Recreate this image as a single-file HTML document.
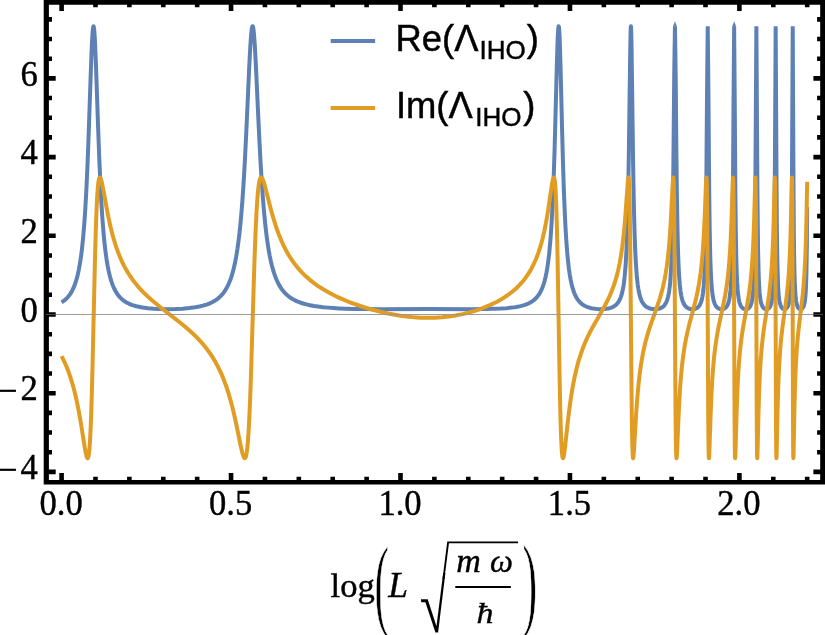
<!DOCTYPE html>
<html><head><meta charset="utf-8"><title>Plot</title>
<style>html,body{margin:0;padding:0;background:#fff;overflow:hidden}svg{display:block}</style>
</head><body>
<svg width="825" height="635" viewBox="0 0 825 635">
<rect width="825" height="635" fill="#fff"/>
<path d="M61.60 302.38 L63.71 300.95 L65.65 299.36 L67.44 297.57 L69.09 295.58 L70.62 293.38 L72.04 290.94 L73.36 288.24 L74.57 285.29 L75.73 281.98 L76.80 278.39 L77.79 274.49 L78.74 270.16 L79.62 265.48 L80.45 260.37 L81.25 254.75 L81.99 248.70 L83.18 237.11 L84.29 223.78 L85.32 208.55 L86.29 191.28 L87.25 171.01 L88.19 147.68 L90.84 70.95 L91.66 49.57 L92.13 39.65 L92.58 32.51 L93.00 28.14 L93.21 26.90 L93.41 26.33 L93.51 26.26 L93.62 26.36 L93.83 27.06 L94.05 28.40 L94.27 30.52 L94.72 36.73 L95.19 45.82 L96.03 66.89 L98.17 129.30 L99.34 160.13 L100.67 189.31 L101.35 201.87 L102.06 213.32 L102.84 224.31 L103.68 234.35 L104.55 243.29 L105.48 251.41 L106.47 258.70 L107.55 265.33 L108.71 271.21 L109.96 276.48 L111.39 281.38 L112.16 283.63 L112.96 285.72 L113.80 287.70 L114.69 289.54 L115.62 291.28 L116.59 292.89 L117.62 294.42 L118.70 295.83 L119.83 297.14 L121.04 298.37 L122.30 299.51 L123.64 300.57 L125.06 301.55 L126.55 302.45 L128.16 303.30 L129.85 304.07 L131.65 304.79 L133.55 305.44 L135.57 306.03 L137.74 306.58 L142.46 307.50 L147.88 308.23 L153.94 308.76 L160.63 309.08 L167.73 309.19 L175.33 309.06 L182.60 308.69 L189.24 308.10 L195.22 307.29 L197.92 306.81 L200.46 306.27 L202.86 305.68 L205.12 305.03 L207.26 304.32 L209.27 303.55 L211.19 302.70 L212.99 301.79 L214.69 300.81 L216.30 299.76 L217.82 298.62 L219.27 297.40 L220.64 296.09 L221.95 294.69 L223.19 293.19 L224.37 291.60 L225.50 289.88 L226.58 288.05 L227.62 286.10 L228.60 284.04 L229.54 281.83 L230.44 279.51 L231.29 277.05 L232.13 274.40 L233.59 269.04 L234.96 263.06 L236.24 256.39 L237.43 249.04 L238.56 240.85 L239.62 231.90 L240.63 222.01 L241.58 211.18 L242.45 199.95 L243.30 187.66 L244.13 174.11 L244.95 159.32 L246.40 129.76 L249.15 68.49 L250.26 47.25 L250.88 37.90 L251.46 31.39 L251.75 29.12 L252.02 27.56 L252.31 26.57 L252.44 26.34 L252.58 26.26 L252.72 26.34 L252.87 26.60 L253.15 27.62 L253.44 29.29 L253.74 31.71 L254.34 38.62 L254.99 48.45 L256.12 70.05 L258.43 120.33 L259.54 143.07 L260.69 164.49 L261.85 183.24 L262.91 198.08 L264.00 211.36 L265.14 223.24 L266.36 233.96 L267.16 240.05 L267.99 245.76 L268.86 251.08 L269.78 256.08 L270.74 260.69 L271.74 264.98 L272.80 268.95 L273.92 272.65 L275.10 276.08 L276.34 279.23 L277.66 282.15 L279.06 284.86 L280.55 287.36 L282.14 289.66 L283.83 291.77 L285.63 293.71 L287.62 295.54 L289.76 297.21 L292.05 298.72 L294.52 300.10 L297.18 301.35 L300.04 302.48 L303.13 303.49 L306.49 304.41 L310.11 305.22 L314.04 305.94 L318.32 306.58 L322.96 307.14 L328.02 307.62 L333.54 308.03 L339.55 308.38 L346.11 308.66 L353.61 308.88 L361.87 309.04 L381.55 309.19 L427.87 309.10 L472.41 309.18 L484.01 309.09 L493.44 308.87 L500.44 308.56 L506.51 308.15 L511.83 307.61 L516.49 306.93 L520.60 306.10 L524.23 305.10 L527.44 303.93 L528.90 303.26 L530.28 302.55 L532.35 301.27 L534.24 299.83 L535.95 298.22 L537.53 296.42 L538.98 294.40 L540.31 292.16 L541.54 289.67 L542.67 286.92 L543.73 283.85 L544.71 280.46 L545.62 276.74 L546.46 272.66 L547.26 268.14 L547.99 263.26 L548.69 257.85 L549.35 251.91 L550.40 240.27 L551.37 226.64 L552.25 211.07 L553.09 192.90 L553.87 172.16 L554.65 147.56 L556.76 68.01 L557.37 47.52 L557.72 38.20 L558.06 31.49 L558.38 27.52 L558.54 26.55 L558.69 26.26 L558.84 26.58 L559.00 27.60 L559.31 31.48 L559.64 38.03 L559.97 47.20 L560.58 68.41 L562.15 132.09 L562.98 162.76 L563.93 192.14 L564.93 216.19 L565.50 227.44 L566.10 237.49 L566.73 246.59 L567.40 254.72 L568.12 262.05 L568.91 268.67 L569.74 274.49 L570.64 279.70 L571.71 284.66 L572.88 288.97 L574.17 292.74 L574.87 294.43 L575.60 295.99 L576.37 297.44 L577.19 298.80 L578.05 300.03 L578.97 301.19 L579.94 302.25 L580.97 303.23 L582.06 304.12 L583.22 304.93 L584.62 305.76 L586.14 306.50 L587.76 307.15 L589.50 307.72 L591.35 308.19 L593.32 308.58 L595.40 308.87 L597.55 309.07 L599.78 309.18 L602.01 309.17 L604.16 309.06 L606.18 308.84 L608.05 308.53 L609.78 308.11 L611.35 307.60 L612.79 306.99 L614.32 306.13 L615.69 305.12 L616.92 303.95 L618.04 302.59 L619.05 301.02 L619.96 299.22 L620.79 297.21 L621.54 294.91 L622.23 292.34 L622.86 289.42 L623.44 286.12 L623.98 282.46 L624.46 278.44 L624.92 273.87 L625.74 263.19 L626.39 251.56 L626.97 237.52 L627.50 221.04 L627.98 201.34 L628.41 179.19 L628.84 153.06 L630.27 47.21 L630.60 31.51 L630.76 27.54 L630.91 26.26 L630.99 26.51 L631.06 27.36 L631.22 31.15 L631.56 46.72 L633.06 159.82 L633.52 187.81 L634.01 211.39 L634.57 232.27 L635.19 249.42 L635.90 263.50 L636.72 274.94 L637.20 280.01 L637.72 284.46 L638.31 288.48 L638.94 291.98 L639.64 295.03 L640.41 297.70 L641.26 300.03 L642.22 302.04 L643.30 303.77 L644.51 305.23 L645.86 306.45 L647.39 307.44 L649.13 308.22 L651.07 308.78 L653.17 309.11 L655.34 309.18" fill="none" stroke="#5E81B5" stroke-width="4.0" stroke-linejoin="round" stroke-linecap="butt"/>
<path d="M654.00 309.17 L656.03 309.15 L657.95 308.91 L659.72 308.46 L661.29 307.80 L662.66 306.95 L663.87 305.89 L664.92 304.60 L665.87 303.06 L666.70 301.24 L667.43 299.13 L668.09 296.68 L668.68 293.87 L669.21 290.60 L669.68 286.95 L670.12 282.73 L670.52 277.91 L671.19 266.81 L671.76 252.91 L672.25 235.60 L672.69 214.55 L673.06 190.48 L673.41 161.80 L674.26 71.29 L674.96 26.26 L675.67 72.80 L676.38 151.30 L676.91 196.86 L677.50 230.74 L677.83 244.59 L678.19 256.21 L678.65 267.43 L679.19 276.92 L679.80 284.64 L680.49 290.83 L681.31 295.86 L681.77 297.97 L682.28 299.87 L682.83 301.53 L683.44 303.02 L684.10 304.30 L684.83 305.44 L685.46 306.22 L686.14 306.90 L686.87 307.49 L687.66 308.00 L688.52 308.43 L689.43 308.76 L690.40 309.00 L691.39 309.14 L692.42 309.19 L693.45 309.13 L694.45 308.96 L695.38 308.70 L696.25 308.34 L697.05 307.90 L697.78 307.36 L698.46 306.72 L699.47 305.43 L700.35 303.83 L701.11 301.91 L701.78 299.59 L702.36 296.86 L702.89 293.61 L703.35 289.83 L703.76 285.44 L704.43 275.05 L704.97 261.76 L705.45 244.29 L705.84 222.67 L706.37 179.30 L707.02 94.02 L707.73 26.26 L708.44 94.33 L708.88 154.91 L709.26 196.36 L709.72 230.46 L710.25 255.56 L710.61 266.91 L711.03 276.33 L711.50 284.10 L712.03 290.30 L712.67 295.41 L713.41 299.47 L713.83 301.16 L714.31 302.69 L714.82 304.01 L715.39 305.18 L715.88 306.00 L716.42 306.72 L717.00 307.35 L717.64 307.89 L718.32 308.34 L719.05 308.70 L719.82 308.96 L720.63 309.12 L721.48 309.19 L722.32 309.14 L723.14 308.99 L723.92 308.74 L724.64 308.39 L725.32 307.94 L725.94 307.39 L726.50 306.75 L727.33 305.46 L728.05 303.88 L728.68 301.93 L729.23 299.63 L729.71 296.88 L730.15 293.58 L730.53 289.71 L730.87 285.30 L731.42 274.95 L731.88 261.26 L732.26 243.76 L732.58 222.30 L733.02 178.17 L733.43 115.92 L734.14 26.26 L734.85 115.48 L735.41 196.26 L735.78 229.78 L736.20 254.20 L736.49 265.45 L736.81 274.84 L737.18 282.70 L737.62 289.20 L738.11 294.39 L738.71 298.65 L739.41 301.97 L739.80 303.35 L740.24 304.56 L741.08 306.28 L741.56 306.97 L742.07 307.57 L742.63 308.09 L743.22 308.50 L743.87 308.83 L744.54 309.05 L745.27 309.17 L746.01 309.18 L746.74 309.07 L747.43 308.85 L748.08 308.53 L748.69 308.09 L749.24 307.57 L749.75 306.93 L750.48 305.67 L751.11 304.10 L751.66 302.20 L752.14 299.89 L752.57 297.16 L752.94 293.93 L753.27 290.08 L753.57 285.57 L754.04 275.23 L754.44 261.47 L754.77 244.47 L755.05 222.41 L755.42 178.21 L756.38 26.26 L757.45 193.95 L757.75 226.37 L758.10 251.23 L758.59 272.43 L758.89 280.48 L759.24 287.24 L759.64 292.70 L760.10 297.10 L760.63 300.61 L761.28 303.45 L761.96 305.44 L762.77 306.99 L763.23 307.61 L763.73 308.13 L764.26 308.54 L764.84 308.86 L765.49 309.09 L766.16 309.18 L766.83 309.15 L767.49 309.00 L768.10 308.72 L768.67 308.33 L769.19 307.84 L769.68 307.22 L770.36 305.99 L770.94 304.45 L771.45 302.55 L771.89 300.29 L772.27 297.56 L772.61 294.36 L773.18 285.97 L773.59 275.94 L773.94 262.58 L774.24 244.99 L774.49 223.35 L774.81 180.27 L775.67 26.27 L776.57 190.40 L776.81 221.22 L777.08 245.68 L777.47 267.26 L777.97 283.01 L778.26 288.92 L778.61 293.87 L779.01 297.85 L779.48 301.14 L780.03 303.71 L780.67 305.73 L781.05 306.56 L781.45 307.26 L781.88 307.86 L782.36 308.36 L782.92 308.76 L783.53 309.04 L784.17 309.18 L784.80 309.16 L785.42 309.01 L786.01 308.71 L786.54 308.29 L787.04 307.73 L787.71 306.63 L788.29 305.17 L788.79 303.37 L789.22 301.12 L789.60 298.42 L789.93 295.08 L790.47 286.70 L790.85 276.43 L791.16 263.28 L791.44 245.43 L791.66 223.71 L791.95 181.24 L792.72 26.27 L793.49 183.66 L793.86 234.91 L794.13 256.75 L794.47 273.50 L794.88 285.71 L795.41 294.75 L795.70 297.84 L796.03 300.55 L796.41 302.76 L796.84 304.62 L797.34 306.13 L797.91 307.32 L798.57 308.22 L799.31 308.83 L799.79 309.05 L800.27 309.17 L800.76 309.18 L801.24 309.08 L801.71 308.88 L802.15 308.58 L802.56 308.18 L802.93 307.69 L803.56 306.49 L804.11 304.89 L804.57 302.90 L804.97 300.41 L805.44 295.91 L805.83 290.10 L806.14 282.93 L806.41 273.52 L806.84 247.08 L807.18 207.23" fill="none" stroke="#5E81B5" stroke-width="4.0" stroke-linejoin="bevel" stroke-linecap="butt"/>
<path d="M672.96 26.56L674.96 21.26L676.96 26.56Z" fill="#5E81B5"/>
<path d="M732.14 26.56L734.14 21.26L736.14 26.56Z" fill="#5E81B5"/>
<path d="M61.60 356.14 L63.34 359.58 L65.00 363.15 L66.58 366.83 L68.10 370.68 L69.54 374.67 L70.93 378.86 L72.26 383.21 L73.54 387.78 L74.91 393.11 L76.24 398.80 L77.53 404.86 L78.79 411.27 L81.02 424.03 L84.73 447.32 L85.94 453.86 L86.70 456.77 L87.04 457.62 L87.36 458.10 L87.52 458.20 L87.67 458.20 L87.96 457.93 L88.23 457.31 L88.50 456.26 L88.90 453.92 L89.27 450.70 L89.63 446.52 L89.98 441.39 L90.67 427.80 L91.34 409.61 L91.88 391.23 L92.47 368.47 L95.03 257.06 L95.76 231.24 L96.47 211.49 L97.25 195.67 L97.66 189.68 L98.08 184.98 L98.53 181.42 L99.00 179.02 L99.25 178.23 L99.50 177.74 L99.77 177.49 L100.05 177.52 L100.26 177.72 L100.48 178.06 L100.95 179.20 L101.48 180.98 L102.06 183.45 L103.29 189.66 L106.66 208.23 L108.31 216.66 L110.51 226.70 L111.63 231.29 L112.77 235.65 L114.00 239.99 L115.28 244.17 L116.60 248.14 L117.98 251.97 L119.41 255.63 L120.90 259.16 L122.46 262.58 L124.09 265.86 L125.98 269.36 L127.96 272.73 L130.04 276.00 L132.26 279.19 L134.59 282.31 L137.05 285.35 L139.67 288.35 L142.46 291.33 L145.19 294.07 L148.11 296.84 L151.24 299.65 L154.64 302.55 L161.61 308.20 L175.66 319.09 L181.51 323.73 L187.52 328.76 L192.76 333.49 L195.74 336.38 L198.55 339.26 L201.20 342.14 L203.72 345.07 L206.12 348.05 L208.40 351.09 L210.58 354.19 L212.67 357.40 L214.88 361.06 L216.98 364.85 L218.99 368.80 L220.91 372.88 L222.74 377.15 L224.50 381.59 L226.19 386.24 L227.81 391.12 L229.37 396.18 L230.87 401.48 L232.35 407.12 L233.80 413.10 L236.39 424.76 L240.75 446.07 L242.14 452.13 L242.94 454.97 L243.66 456.92 L243.99 457.56 L244.32 457.98 L244.62 458.19 L244.91 458.19 L245.24 457.94 L245.56 457.39 L245.87 456.55 L246.17 455.43 L246.75 452.24 L247.30 447.90 L247.83 442.22 L248.36 435.16 L248.86 426.72 L249.36 416.96 L250.18 397.55 L251.04 373.25 L253.70 285.26 L254.67 255.56 L255.64 230.38 L256.58 211.01 L257.51 196.89 L258.00 191.35 L258.50 186.82 L259.02 183.19 L259.55 180.52 L260.12 178.67 L260.42 178.07 L260.73 177.68 L261.04 177.49 L261.35 177.50 L261.69 177.70 L262.04 178.10 L262.78 179.48 L263.61 181.68 L264.47 184.46 L265.49 188.18 L269.36 203.55 L271.17 210.48 L272.85 216.48 L274.50 221.98 L276.63 228.45 L278.82 234.48 L281.11 240.11 L283.51 245.40 L286.12 250.54 L288.89 255.40 L291.84 259.99 L294.95 264.32 L298.27 268.43 L301.81 272.34 L305.58 276.06 L309.59 279.61 L312.10 281.64 L314.70 283.62 L317.40 285.54 L320.20 287.43 L323.12 289.27 L326.14 291.06 L329.28 292.82 L332.52 294.53 L335.90 296.21 L339.39 297.85 L342.99 299.45 L346.71 301.01 L350.54 302.52 L354.45 303.99 L362.53 306.75 L370.93 309.29 L379.43 311.53 L387.92 313.45 L396.30 315.03 L400.43 315.68 L404.50 316.25 L408.54 316.73 L412.54 317.12 L416.51 317.42 L420.44 317.64 L424.32 317.76 L428.19 317.81 L435.20 317.65 L442.13 317.21 L448.99 316.47 L455.79 315.43 L462.52 314.10 L469.16 312.47 L475.66 310.56 L481.97 308.38 L485.04 307.20 L488.03 305.96 L490.95 304.66 L493.80 303.31 L496.56 301.91 L499.24 300.45 L501.84 298.94 L504.34 297.39 L506.75 295.79 L509.06 294.15 L511.28 292.46 L513.43 290.71 L515.48 288.92 L517.46 287.08 L519.36 285.17 L521.18 283.22 L524.16 279.67 L526.94 275.91 L529.51 271.95 L531.91 267.73 L534.15 263.23 L536.22 258.46 L538.16 253.35 L539.96 247.90 L541.41 242.97 L542.77 237.72 L544.08 232.12 L545.33 226.10 L546.65 219.05 L547.95 211.27 L549.16 203.42 L551.35 188.41 L552.19 183.14 L552.69 180.55 L553.12 178.79 L553.52 177.77 L553.71 177.53 L553.88 177.48 L554.08 177.64 L554.27 178.03 L554.61 179.48 L554.95 181.94 L555.26 185.31 L555.84 195.10 L556.40 209.54 L556.95 229.14 L557.51 254.88 L559.57 375.05 L560.06 399.61 L560.50 418.46 L561.08 436.72 L561.66 448.94 L561.97 453.12 L562.29 456.02 L562.64 457.72 L562.83 458.12 L563.01 458.21 L563.18 458.06 L563.34 457.72 L563.69 456.45 L564.07 454.35 L564.49 451.42 L565.25 445.15 L567.46 424.86 L568.74 413.90 L570.18 402.87 L571.66 393.01 L573.25 383.84 L574.94 375.46 L576.77 367.67 L578.76 360.38 L580.75 354.05 L582.92 347.97 L585.30 342.11 L587.94 336.28 L590.34 331.47 L593.06 326.39 L601.93 310.91 L604.94 305.48 L607.74 300.03 L610.16 294.81 L612.50 289.11 L614.57 283.24 L616.41 277.15 L618.06 270.66 L619.55 263.68 L620.90 256.14 L622.11 247.92 L623.23 238.84 L624.23 229.19 L625.17 218.37 L627.77 182.64 L628.19 178.68 L628.38 177.73 L628.54 177.48 L628.64 177.64 L628.73 178.00 L628.90 179.48 L629.21 185.15 L629.50 194.78 L629.77 208.89 L630.32 253.54 L631.36 374.47 L631.83 418.02 L632.12 436.12 L632.42 448.56 L632.74 455.82 L632.91 457.60 L633.01 458.08 L633.11 458.21 L633.27 457.82 L633.45 456.68 L633.86 451.95 L636.16 413.69 L636.98 402.10 L637.82 391.87 L638.75 382.29 L639.76 373.56 L640.87 365.47 L642.07 358.02 L643.26 351.70 L644.57 345.70 L646.02 339.85 L647.64 334.09 L649.10 329.36 L650.78 324.33 L656.32 308.85 L658.25 303.27 L660.05 297.62 L661.62 292.16 L663.11 286.25 L664.43 280.19 L665.61 273.82 L666.68 266.98 L667.56 260.29 L668.37 253.07 L669.11 245.20 L669.79 236.67 L670.42 227.59 L671.02 217.25 L672.74 182.97 L673.04 178.83 L673.16 177.84 L673.29 177.47 L673.41 177.89 L673.53 179.29 L673.76 184.97 L673.96 194.44 L674.16 209.08 L674.54 254.23 L675.26 373.44 L675.60 417.68 L675.81 436.63 L676.02 448.92 L676.24 455.89 L676.37 457.65 L676.50 458.21 L676.62 457.82 L676.74 456.67 L677.03 452.02 L678.67 413.60 L679.25 402.05 L679.87 391.57 L680.56 381.83 L681.30 372.94 L682.12 364.74 L683.02 357.22 L683.90 350.91 L684.87 344.90 L685.94 339.11 L687.14 333.35 L688.24 328.62 L689.48 323.63 L693.63 308.13 L695.08 302.49 L696.45 296.74 L697.63 291.22 L698.76 285.19 L699.75 279.04 L700.65 272.54 L701.44 265.70 L702.09 259.16 L702.69 252.07 L703.25 244.27 L703.76 235.93 L704.69 216.77 L705.99 183.15 L706.23 178.89 L706.33 177.86 L706.43 177.47 L706.53 177.92 L706.61 179.16 L706.79 184.65 L707.10 208.30 L707.40 252.42 L708.23 417.17 L708.55 448.24 L708.74 455.87 L708.84 457.66 L708.94 458.21 L709.02 457.88 L709.12 456.75 L709.36 451.86 L710.57 415.76 L711.39 395.84 L712.29 379.31 L713.34 365.19 L714.03 357.75 L714.80 350.78 L715.66 344.17 L716.63 337.75 L717.62 331.97 L718.78 325.94 L723.29 304.85 L725.09 295.60 L726.02 290.12 L726.84 284.66 L727.58 279.07 L728.25 273.15 L728.94 265.92 L729.57 258.18 L730.12 249.79 L730.65 240.36 L731.54 219.21 L732.71 182.99 L732.90 178.93 L733.06 177.48 L733.14 177.92 L733.22 179.22 L733.37 185.09 L733.62 208.26 L733.86 252.80 L734.56 418.60 L734.83 449.24 L734.98 456.14 L735.06 457.68 L735.14 458.21 L735.31 456.51 L735.49 451.75 L736.49 415.85 L737.17 395.87 L737.94 379.03 L738.84 364.64 L739.42 357.25 L740.07 350.33 L740.79 343.75 L741.59 337.41 L742.43 331.68 L743.40 325.68 L747.19 304.66 L748.71 295.36 L749.50 289.90 L750.19 284.40 L750.81 278.79 L751.39 272.81 L751.97 265.62 L752.49 257.93 L752.98 249.34 L753.41 240.04 L754.17 218.94 L755.16 182.85 L755.32 178.81 L755.46 177.47 L755.60 179.32 L755.72 185.11 L755.93 208.10 L756.15 252.15 L756.74 418.23 L756.97 448.24 L757.09 455.58 L757.24 458.21 L757.38 456.67 L757.54 451.95 L758.39 415.90 L758.99 395.62 L759.66 378.66 L760.43 364.36 L760.94 356.92 L761.50 350.02 L762.12 343.50 L762.82 337.20 L763.55 331.38 L764.38 325.45 L767.66 304.47 L768.98 295.23 L770.26 284.31 L771.29 272.80 L771.80 265.61 L772.26 257.84 L773.06 240.13 L773.72 219.22 L774.60 182.68 L774.73 178.80 L774.86 177.48 L774.98 179.64 L775.08 185.10 L775.27 208.31 L775.98 418.55 L776.18 448.62 L776.29 455.87 L776.41 458.21 L776.54 456.55 L776.67 451.96 L777.43 415.68 L777.95 395.52 L778.55 378.43 L779.23 364.09 L780.17 349.94 L780.71 343.43 L781.33 337.07 L782.71 325.36 L785.62 304.34 L786.79 295.07 L787.92 284.16 L788.84 272.55 L789.70 257.56 L790.39 240.08 L790.98 219.24 L791.76 182.81 L791.88 178.82 L792.00 177.48 L792.09 179.22 L792.19 185.08 L792.36 207.34 L792.99 417.88 L793.18 449.26 L793.27 456.13 L793.39 458.21 L793.49 456.68 L793.61 452.06 L794.29 415.45 L794.75 395.59 L795.29 378.44 L795.91 363.89 L796.75 349.64 L797.80 336.87 L799.03 325.25 L801.63 304.34 L802.67 295.13 L803.69 284.22 L804.51 272.76 L805.30 257.34 L805.95 239.12 L806.46 218.73 L807.18 181.76" fill="none" stroke="#E19C24" stroke-width="4.0" stroke-linejoin="round" stroke-linecap="butt"/>
<line x1="48.9" y1="314.5" x2="820.2" y2="314.5" stroke="#969696" stroke-width="0.95"/>
<path d="M61.60 481.40v-8.3 M61.60 3.25v7.700000000000001 M95.49 481.40v-4.6 M95.49 3.25v3.9999999999999996 M129.38 481.40v-4.6 M129.38 3.25v3.9999999999999996 M163.27 481.40v-4.6 M163.27 3.25v3.9999999999999996 M197.16 481.40v-4.6 M197.16 3.25v3.9999999999999996 M231.05 481.40v-8.3 M231.05 3.25v7.700000000000001 M264.94 481.40v-4.6 M264.94 3.25v3.9999999999999996 M298.83 481.40v-4.6 M298.83 3.25v3.9999999999999996 M332.72 481.40v-4.6 M332.72 3.25v3.9999999999999996 M366.61 481.40v-4.6 M366.61 3.25v3.9999999999999996 M400.50 481.40v-8.3 M400.50 3.25v7.700000000000001 M434.39 481.40v-4.6 M434.39 3.25v3.9999999999999996 M468.28 481.40v-4.6 M468.28 3.25v3.9999999999999996 M502.17 481.40v-4.6 M502.17 3.25v3.9999999999999996 M536.06 481.40v-4.6 M536.06 3.25v3.9999999999999996 M569.95 481.40v-8.3 M569.95 3.25v7.700000000000001 M603.84 481.40v-4.6 M603.84 3.25v3.9999999999999996 M637.73 481.40v-4.6 M637.73 3.25v3.9999999999999996 M671.62 481.40v-4.6 M671.62 3.25v3.9999999999999996 M705.51 481.40v-4.6 M705.51 3.25v3.9999999999999996 M739.40 481.40v-8.3 M739.40 3.25v7.700000000000001 M773.29 481.40v-4.6 M773.29 3.25v3.9999999999999996 M807.18 481.40v-4.6 M807.18 3.25v3.9999999999999996 M47.40 471.90h8.3 M821.70 471.90h-8.3 M47.40 452.23h4.6 M821.70 452.23h-4.6 M47.40 432.55h4.6 M821.70 432.55h-4.6 M47.40 412.88h4.6 M821.70 412.88h-4.6 M47.40 393.20h8.3 M821.70 393.20h-8.3 M47.40 373.52h4.6 M821.70 373.52h-4.6 M47.40 353.85h4.6 M821.70 353.85h-4.6 M47.40 334.18h4.6 M821.70 334.18h-4.6 M47.40 314.50h8.3 M821.70 314.50h-8.3 M47.40 294.82h4.6 M821.70 294.82h-4.6 M47.40 275.15h4.6 M821.70 275.15h-4.6 M47.40 255.47h4.6 M821.70 255.47h-4.6 M47.40 235.80h8.3 M821.70 235.80h-8.3 M47.40 216.12h4.6 M821.70 216.12h-4.6 M47.40 196.45h4.6 M821.70 196.45h-4.6 M47.40 176.78h4.6 M821.70 176.78h-4.6 M47.40 157.10h8.3 M821.70 157.10h-8.3 M47.40 137.42h4.6 M821.70 137.42h-4.6 M47.40 117.75h4.6 M821.70 117.75h-4.6 M47.40 98.07h4.6 M821.70 98.07h-4.6 M47.40 78.40h8.3 M821.70 78.40h-8.3 M47.40 58.72h4.6 M821.70 58.72h-4.6 M47.40 39.05h4.6 M821.70 39.05h-4.6 M47.40 19.38h4.6 M821.70 19.38h-4.6" stroke="#000" stroke-width="4.6" fill="none"/>
<path d="M43.7 -1H826V484.4H43.7Z M48.9 4.75V479.9H820.2V4.75Z" fill="#000" fill-rule="evenodd"/>
<path d="M46 314.5H55.7M813.4 314.5H823" stroke="#5a5a5a" stroke-width="0.8" fill="none"/>
<text transform="translate(61.10 514.8) scale(1 1.065)" font-size="34.6" text-anchor="middle" font-family="Liberation Serif, serif" stroke="#000" stroke-width="0.4">0.0</text>
<text transform="translate(230.55 514.8) scale(1 1.065)" font-size="34.6" text-anchor="middle" font-family="Liberation Serif, serif" stroke="#000" stroke-width="0.4">0.5</text>
<text transform="translate(400.00 514.8) scale(1 1.065)" font-size="34.6" text-anchor="middle" font-family="Liberation Serif, serif" stroke="#000" stroke-width="0.4">1.0</text>
<text transform="translate(569.45 514.8) scale(1 1.065)" font-size="34.6" text-anchor="middle" font-family="Liberation Serif, serif" stroke="#000" stroke-width="0.4">1.5</text>
<text transform="translate(738.90 514.8) scale(1 1.065)" font-size="34.6" text-anchor="middle" font-family="Liberation Serif, serif" stroke="#000" stroke-width="0.4">2.0</text>
<text transform="translate(37.8 85.50) scale(1 1.065)" font-size="34.6" text-anchor="end" font-family="Liberation Serif, serif" stroke="#000" stroke-width="0.4">6</text>
<text transform="translate(37.8 164.20) scale(1 1.065)" font-size="34.6" text-anchor="end" font-family="Liberation Serif, serif" stroke="#000" stroke-width="0.4">4</text>
<text transform="translate(37.8 242.90) scale(1 1.065)" font-size="34.6" text-anchor="end" font-family="Liberation Serif, serif" stroke="#000" stroke-width="0.4">2</text>
<text transform="translate(37.8 321.60) scale(1 1.065)" font-size="34.6" text-anchor="end" font-family="Liberation Serif, serif" stroke="#000" stroke-width="0.4">0</text>
<text transform="translate(37.8 400.30) scale(1 1.065)" font-size="34.6" text-anchor="end" font-family="Liberation Serif, serif" stroke="#000" stroke-width="0.4"><tspan dy="2.6">−</tspan><tspan dy="-2.6" dx="3.1">2</tspan></text>
<text transform="translate(37.8 479.00) scale(1 1.065)" font-size="34.6" text-anchor="end" font-family="Liberation Serif, serif" stroke="#000" stroke-width="0.4"><tspan dy="2.6">−</tspan><tspan dy="-2.6" dx="3.1">4</tspan></text>
<line x1="330.7" y1="41.0" x2="375.1" y2="41.0" stroke="#5E81B5" stroke-width="4.0"/>
<line x1="330.7" y1="108.0" x2="375.1" y2="108.0" stroke="#E19C24" stroke-width="4.0"/>
<text x="395.6" y="51.0" font-size="36.4" font-family="Liberation Sans, sans-serif" stroke="#000" stroke-width="0.45">Re(Λ<tspan font-size="26.0" dy="7.5" dx="1">IHO</tspan><tspan dy="-7.5" dx="1">)</tspan></text>
<text x="395.9" y="118.0" font-size="36.4" font-family="Liberation Sans, sans-serif" stroke="#000" stroke-width="0.45">Im(Λ<tspan font-size="26.0" dy="7.5" dx="2.6">IHO</tspan><tspan dy="-7.5" dx="1.6">)</tspan></text>
<text x="330.6" y="596.6" font-size="34.6" font-family="Liberation Serif, serif" stroke="#000" stroke-width="0.4">log</text>
<text x="388.2" y="596.8" font-size="35.5" font-style="italic" font-family="Liberation Serif, serif" stroke="#000" stroke-width="0.4">L</text>
<text x="456.3" y="572" font-size="34" font-style="italic" font-family="Liberation Serif, serif" stroke="#000" stroke-width="0.4">m</text>
<text x="490.0" y="572" font-size="32.5" font-style="italic" font-family="Liberation Serif, serif" stroke="#000" stroke-width="0.4">ω</text>
<text transform="translate(476.5 623) scale(1 0.875)" font-size="34" font-style="italic" font-family="Liberation Serif, serif" stroke="#000" stroke-width="0.4">ħ</text>
<line x1="455.3" y1="587" x2="510.9" y2="587" stroke="#000" stroke-width="1.9"/>
<text transform="matrix(1.5041 0 0.1901 2.1974 422.42 631.69)" font-size="34" font-family="Liberation Serif, serif">√</text>
<path d="M443.45 579 L448.1 542.4 L518 542.4" fill="none" stroke="#000" stroke-width="1.9" stroke-linejoin="miter"/>
<text stroke="#fff" stroke-width="0.8" vector-effect="non-scaling-stroke" transform="translate(374.56 616.89) scale(1.2687 3.0131)" font-size="34.0" font-family="Liberation Serif, serif">(</text>
<text stroke="#fff" stroke-width="0.8" vector-effect="non-scaling-stroke" transform="translate(522.47 616.82) scale(1.3009 3.0229)" font-size="34.0" font-family="Liberation Serif, serif">)</text>
</svg>
</body></html>
